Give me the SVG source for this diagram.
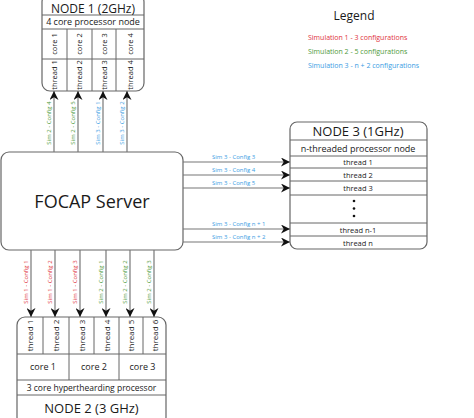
<svg xmlns="http://www.w3.org/2000/svg" width="474" height="418" viewBox="0 0 474 418">
<style>
text{font-family:"Open Sans","Liberation Sans",sans-serif;fill:#1a1a1a}
.box{fill:#fff;stroke:#666;stroke-width:1.2}
.ln{stroke:#666;stroke-width:1;fill:none}
.con{stroke:#777;stroke-width:1.2;fill:none;marker-end:url(#ah)}
.t{font-size:7.5px;text-anchor:middle}
.sub{font-size:9px;text-anchor:middle}
.ttl{font-size:12px;text-anchor:middle}
.lbl{font-size:6px;text-anchor:middle}
.hl{font-size:6px}
.r{fill:#e0323b}.g{fill:#4f9a3a}.b{fill:#3a9de3}
</style>
<defs>
<marker id="ah" markerUnits="userSpaceOnUse" markerWidth="9" markerHeight="9" viewBox="0 0 10 10" refX="10" refY="5" orient="auto">
<path d="M0,0 L10,5 L0,10 L3,5 z" fill="#111"/>
</marker>
</defs>

<g id="legend">
<text x="354" y="20" style="font-size:12px;text-anchor:middle">Legend</text>
<text x="308" y="40" class="r" style="font-size:7px">Simulation 1 - 3 configurations</text>
<text x="308" y="54" class="g" style="font-size:7px">Simulation 2 - 5 configurations</text>
<text x="308" y="68" class="b" style="font-size:7px">Simulation 3 - n + 2 configurations</text>
</g>

<g id="node1">
<rect class="box" x="42" y="-6" width="102" height="97" rx="8"/>
<line class="ln" x1="42" y1="15" x2="144" y2="15"/>
<line class="ln" x1="42" y1="29" x2="144" y2="29"/>
<line class="ln" x1="42" y1="59" x2="144" y2="59"/>
<line class="ln" x1="67" y1="29" x2="67" y2="91"/>
<line class="ln" x1="92" y1="29" x2="92" y2="91"/>
<line class="ln" x1="116" y1="29" x2="116" y2="91"/>
<text x="93" y="12.5" class="ttl">NODE 1 (2GHz)</text>
<text x="93" y="25" class="sub">4 core processor node</text>
<text class="t" transform="translate(57,44) rotate(-90)">core 1</text>
<text class="t" transform="translate(82,44) rotate(-90)">core 2</text>
<text class="t" transform="translate(106.5,44) rotate(-90)">core 3</text>
<text class="t" transform="translate(132.5,44) rotate(-90)">core 4</text>
<text class="t" transform="translate(57,75) rotate(-90)">thread 1</text>
<text class="t" transform="translate(82,75) rotate(-90)">thread 2</text>
<text class="t" transform="translate(106.5,75) rotate(-90)">thread 3</text>
<text class="t" transform="translate(132.5,75) rotate(-90)">thread 4</text>
</g>

<g id="server">
<rect class="box" x="1" y="152" width="182" height="98" rx="8"/>
<text x="92" y="208" style="font-size:18px;text-anchor:middle">FOCAP Server</text>
</g>

<g id="node3">
<rect class="box" x="290" y="122" width="137" height="127" rx="7"/>
<line class="ln" x1="290" y1="140" x2="427" y2="140"/>
<line class="ln" x1="290" y1="156" x2="427" y2="156"/>
<line class="ln" x1="290" y1="168" x2="427" y2="168"/>
<line class="ln" x1="290" y1="181" x2="427" y2="181"/>
<line class="ln" x1="290" y1="195" x2="427" y2="195"/>
<line class="ln" x1="290" y1="223" x2="427" y2="223"/>
<line class="ln" x1="290" y1="236" x2="427" y2="236"/>
<text x="358" y="136" class="ttl" style="font-size:13px">NODE 3 (1GHz)</text>
<text x="358" y="151.5" class="sub">n-threaded processor node</text>
<text x="358" y="165" class="t">thread 1</text>
<text x="358" y="177.5" class="t">thread 2</text>
<text x="358" y="191" class="t">thread 3</text>
<circle cx="354" cy="201" r="1.3" fill="#111"/>
<circle cx="354" cy="208.5" r="1.3" fill="#111"/>
<circle cx="354" cy="216" r="1.3" fill="#111"/>
<text x="358" y="232.5" class="t">thread n-1</text>
<text x="358" y="245.5" class="t">thread n</text>
</g>

<g id="node2">
<rect class="box" x="17" y="317" width="149" height="108" rx="8"/>
<line class="ln" x1="17" y1="354" x2="166" y2="354"/>
<line class="ln" x1="17" y1="380" x2="166" y2="380"/>
<line class="ln" x1="17" y1="395" x2="166" y2="395"/>
<line class="ln" x1="43" y1="317" x2="43" y2="354"/>
<line class="ln" x1="69" y1="317" x2="69" y2="380"/>
<line class="ln" x1="94" y1="317" x2="94" y2="354"/>
<line class="ln" x1="119" y1="317" x2="119" y2="380"/>
<line class="ln" x1="143" y1="317" x2="143" y2="354"/>
<text class="t" style="font-size:8px" transform="translate(33,335.5) rotate(-90)">thread 1</text>
<text class="t" style="font-size:8px" transform="translate(59,335.5) rotate(-90)">thread 2</text>
<text class="t" style="font-size:8px" transform="translate(84.5,335.5) rotate(-90)">thread 3</text>
<text class="t" style="font-size:8px" transform="translate(109.5,335.5) rotate(-90)">thread 4</text>
<text class="t" style="font-size:8px" transform="translate(134,335.5) rotate(-90)">thread 5</text>
<text class="t" style="font-size:8px" transform="translate(157.5,335.5) rotate(-90)">thread 6</text>
<text x="43" y="370" class="sub">core 1</text>
<text x="94" y="370" class="sub">core 2</text>
<text x="142.5" y="370" class="sub">core 3</text>
<text x="91.5" y="391" class="t" style="font-size:8.5px">3 core hyperthearding processor</text>
<text x="91.5" y="413" class="ttl" style="font-size:13px">NODE 2 (3 GHz)</text>
</g>

<g id="connectors">
<line class="con" x1="54" y1="152" x2="54" y2="91"/>
<line class="con" x1="78" y1="152" x2="78" y2="91"/>
<line class="con" x1="103" y1="152" x2="103" y2="91"/>
<line class="con" x1="127" y1="152" x2="127" y2="91"/>
<text class="lbl g" transform="translate(51,123) rotate(-90)">Sim 2 - Config 4</text>
<text class="lbl g" transform="translate(75,123) rotate(-90)">Sim 2 - Config 5</text>
<text class="lbl b" transform="translate(100,123) rotate(-90)">Sim 3 - Config 1</text>
<text class="lbl b" transform="translate(124,123) rotate(-90)">Sim 3 - Config 2</text>

<line class="con" x1="183" y1="162" x2="290" y2="162"/>
<line class="con" x1="183" y1="175" x2="290" y2="175"/>
<line class="con" x1="183" y1="188" x2="290" y2="188"/>
<line class="con" x1="183" y1="229" x2="290" y2="229"/>
<line class="con" x1="183" y1="242" x2="290" y2="242"/>
<text x="212" y="159" class="hl b">Sim 3 - Config 3</text>
<text x="212" y="172" class="hl b">Sim 3 - Config 4</text>
<text x="212" y="185" class="hl b">Sim 3 - Config 5</text>
<text x="212" y="226" class="hl b">Sim 3 - Config n + 1</text>
<text x="212" y="239" class="hl b">Sim 3 - Config n + 2</text>

<line class="con" x1="31" y1="250" x2="31" y2="317"/>
<line class="con" x1="55" y1="250" x2="55" y2="317"/>
<line class="con" x1="80" y1="250" x2="80" y2="317"/>
<line class="con" x1="106" y1="250" x2="106" y2="317"/>
<line class="con" x1="130" y1="250" x2="130" y2="317"/>
<line class="con" x1="154" y1="250" x2="154" y2="317"/>
<text class="lbl r" transform="translate(28,282) rotate(-90)">Sim 1 - Config 1</text>
<text class="lbl r" transform="translate(52,282) rotate(-90)">Sim 1 - Config 2</text>
<text class="lbl r" transform="translate(77,282) rotate(-90)">Sim 1 - Config 3</text>
<text class="lbl g" transform="translate(103,282) rotate(-90)">Sim 2 - Config 1</text>
<text class="lbl g" transform="translate(127,282) rotate(-90)">Sim 2 - Config 2</text>
<text class="lbl g" transform="translate(151,282) rotate(-90)">Sim 2 - Config 3</text>
</g>
</svg>
